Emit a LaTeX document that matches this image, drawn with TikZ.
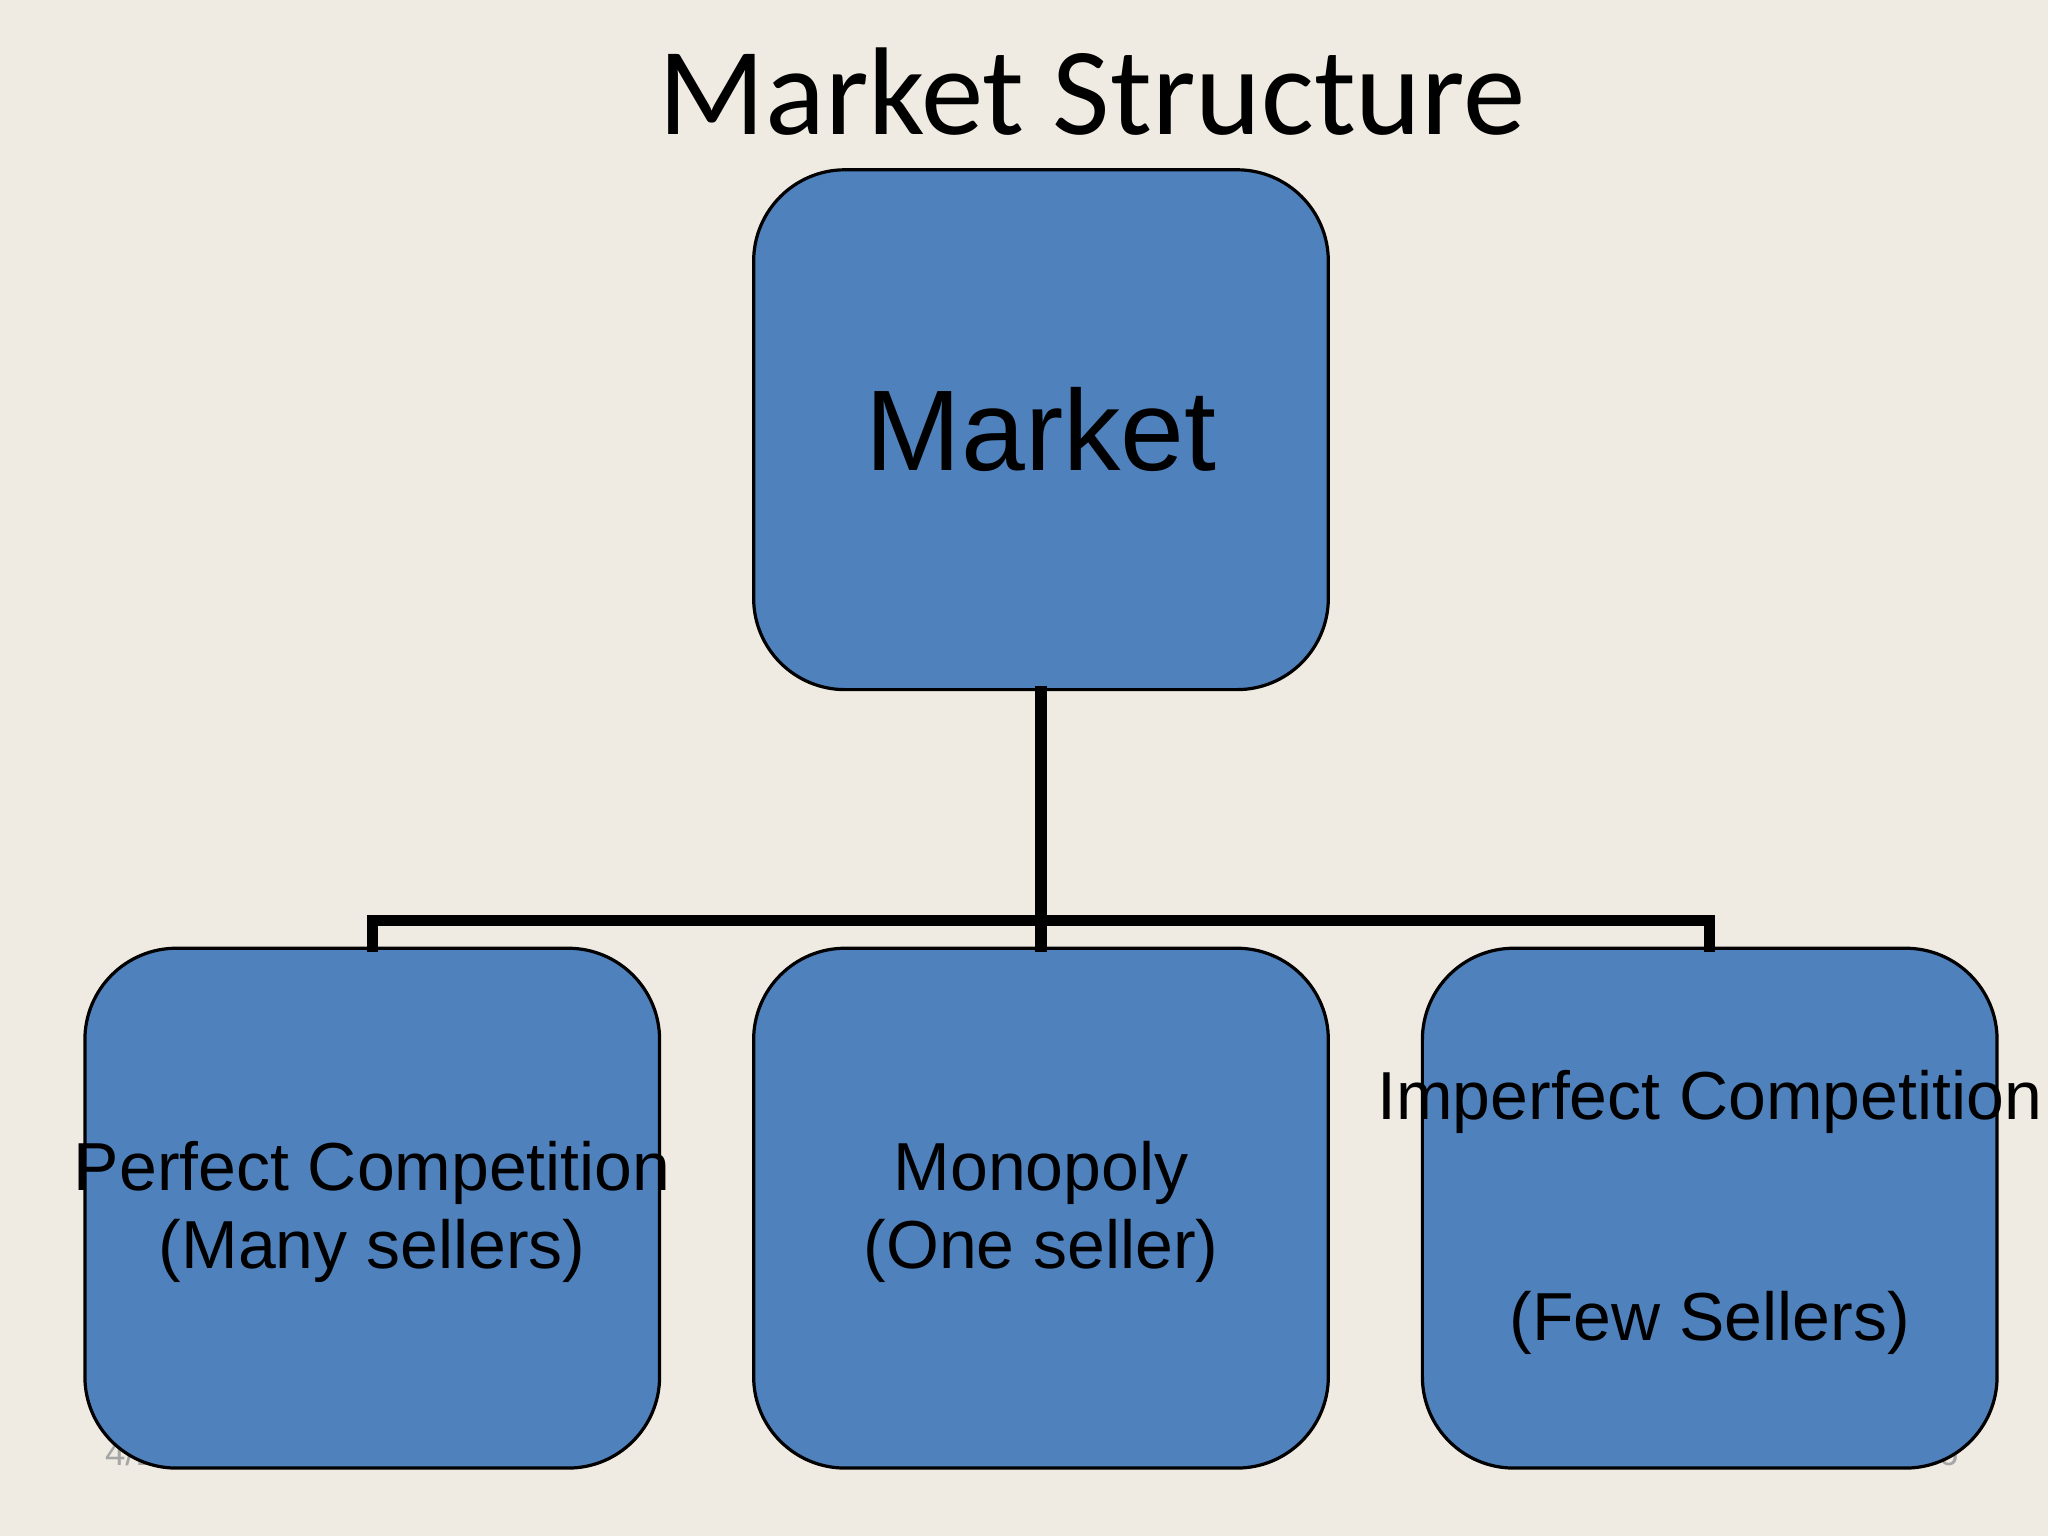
\documentclass[tikz,border=0pt]{standalone}
\usepackage{fontspec}
\setmainfont{Liberation Sans}
\newfontfamily\titlefont{Carlito}
\definecolor{bg}{HTML}{EFEBE2}
\definecolor{boxblue}{HTML}{4F81BD}
\begin{document}
\begin{tikzpicture}[x=1cm,y=-1cm,
  box/.style={draw=black,line width=0.7pt,fill=boxblue,rounded corners=0.7cm,minimum width=4.4cm,minimum height=3.98cm,align=center,inner sep=0pt},
  lbl/.style={font=\fontsize{14.8}{17}\selectfont,align=center,inner sep=0pt},
  conn/.style={line width=2.4pt,line cap=rect}]
\fill[bg] (0,0) rectangle (15.68,11.76);
\useasboundingbox (0,0) rectangle (15.68,11.76);
\node[text=gray!70,font=\fontsize{8}{10}\selectfont,anchor=west] (d) at (0.68,11.12) {4/18/2016};
\node[text=gray!70,font=\fontsize{8}{10}\selectfont,anchor=east] (p) at (15.12,11.12) {16};
\node[font=\titlefont\fontsize{27.2}{32}\selectfont] (t) at (8.36,0.70) {Market Structure};
\node[box,font=\fontsize{25}{30}\selectfont] (m) at (7.97,3.29) {Market};
\node[box] (a) at (2.85,9.25) {};
\node[box] (b) at (7.97,9.25) {};
\node[box] (c) at (13.09,9.25) {};
\node[lbl] (at) at (2.85,9.28) {Perfect Competition\\(Many sellers)};
\node[lbl] (bt) at (7.97,9.28) {Monopoly\\(One seller)};
\node[lbl] (ct) at (13.09,9.28) {Imperfect Competition\\[2.1em](Few Sellers)};
\coordinate (j) at (7.97,7.06);
\draw[conn] (m.south) -- (j);
\draw[conn] (a.north) -- ++(0,-0.2) -| (c.north);
\draw[conn] (j) -- (b.north);
\end{tikzpicture}
\end{document}
